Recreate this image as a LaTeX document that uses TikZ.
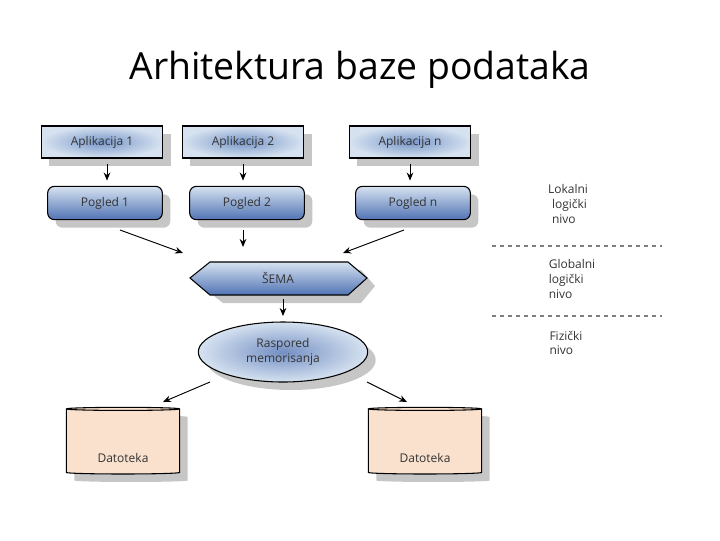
\documentclass[tikz,border=0pt]{standalone}
\usepackage{fontspec}
\setmainfont{Open Sans}
\usetikzlibrary{shapes.geometric,arrows.meta,shadows}
\definecolor{app}{RGB}{214,226,240}
\definecolor{appc}{RGB}{120,150,200}
\definecolor{pog}{RGB}{80,115,180}
\definecolor{cyl}{RGB}{250,225,205}
\tikzset{
 x=0.75pt,y=-0.75pt,
 shd/.style={drop shadow={shadow xshift=6pt,shadow yshift=-6pt,fill=gray!45,opacity=1}},
 appbox/.style={draw,line width=0.8pt,minimum width=91pt,minimum height=24pt,inner color=appc,outer color=app,shd,font=\small,text=black!80},
 pogbox/.style={draw,line width=0.8pt,rounded corners=5pt,minimum width=86pt,minimum height=25pt,top color=app,bottom color=pog,shd,font=\small,text=black!80},
 arr/.style={-{Stealth[length=6pt,width=5pt]},line width=0.7pt},
 lvl/.style={align=left,font=\small,text=black!80},
 sep/.style={dashed,gray,line width=0.8pt},
}
\begin{document}
\begin{tikzpicture}
\useasboundingbox (0,0) rectangle (720,540);
\node[font=\fontsize{28}{30}\selectfont] (title) at (360,70) {Arhitektura baze podataka};
\node[appbox] (a1) at (102,142) {Aplikacija 1};
\node[appbox] (a2) at (243,142) {Aplikacija 2};
\node[appbox] (an) at (410,142) {Aplikacija n};
\node[pogbox] (p1) at (105,203) {Pogled 1};
\node[pogbox] (p2) at (247,203) {Pogled 2};
\node[pogbox] (pn) at (413,203) {Pogled n};
\node[draw,line width=0.8pt,regular polygon,regular polygon sides=6,shape border rotate=0,minimum size=10pt,inner sep=0pt,opacity=0] (dummy) at (0,0) {};
\draw[line width=0.8pt] ;
\node[inner sep=0pt,minimum width=133pt,minimum height=25pt] (s) at (278,278) {};
\fill[gray!45] (201,270)--(223,270)--(361,270)--(375,286)--(361,303)--(223,303)--(201,286)--cycle;
\shade[top color=app,bottom color=pog,draw=black,line width=0.8pt] (190,278)--(210,262)--(348,262)--(367,278)--(348,295)--(210,295)--cycle;
\node[font=\small,text=black!80] (st) at (s) {ŠEMA};
\node[draw,line width=0.8pt,ellipse,minimum width=127pt,minimum height=45pt,inner color=pog!80,outer color=app,shd,align=center,font=\small,text=black!80] (r) at (283,352) {Raspored\\memorisanja};
\node[draw,line width=0.8pt,cylinder,shape border rotate=90,aspect=0.35,minimum width=85pt,minimum height=50pt,fill=cyl,shd] (d1) at (123,442) {};
\node[draw,line width=0.8pt,cylinder,shape border rotate=90,aspect=0.35,minimum width=85pt,minimum height=50pt,fill=cyl,shd] (d2) at (425,442) {};
\node[font=\small,text=black!80] (t1) at (123,458) {Datoteka};
\node[font=\small,text=black!80] (t2) at (425,458) {Datoteka};
\draw[arr] (a1.south) ++(5,5) coordinate (c1) -- ++(0,17);
\draw[arr] (a2.south) ++(0,5) -- ++(0,17);
\draw[arr] (an.south) ++(0,5) -- ++(0,17);
\coordinate (e1) at (120,230); \coordinate (e2) at (183,253);
\draw[arr] (e1) -- (e2);
\coordinate (f1) at (243,230); \coordinate (f2) at (243,247);
\draw[arr] (f1) -- (f2);
\coordinate (g1) at (404,230); \coordinate (g2) at (343,253);
\draw[arr] (g1) -- (g2);
\coordinate (h1) at (283,299); \coordinate (h2) at (283,316);
\draw[arr] (h1) -- (h2);
\coordinate (i1) at (210,382); \coordinate (i2) at (163,402);
\draw[arr] (i1) -- (i2);
\coordinate (j1) at (367,382); \coordinate (j2) at (407,402);
\draw[arr] (j1) -- (j2);
\node[lvl] (l1) at (568,204) {Lokalni\\\hspace*{3pt}logički\\\hspace*{3pt}nivo};
\node[lvl] (l2) at (572,279) {Globalni\\logički\\nivo};
\node[lvl] (l3) at (566,343) {Fizički\\nivo};
\coordinate (s1a) at (492,246); \coordinate (s1b) at (662,246);
\draw[sep] (s1a) -- (s1b);
\coordinate (s2a) at (492,316); \coordinate (s2b) at (662,316);
\draw[sep] (s2a) -- (s2b);
\end{tikzpicture}
\end{document}
